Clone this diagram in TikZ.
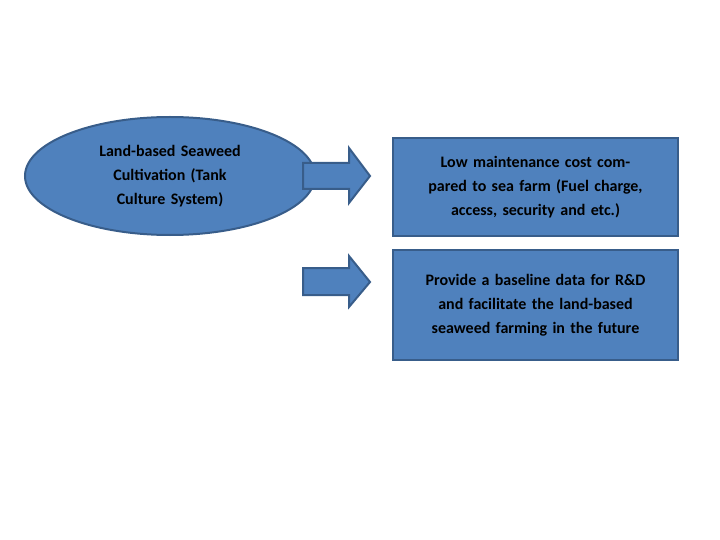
\documentclass[tikz,border=0pt]{standalone}
\usepackage{fontspec}
\setmainfont{Carlito}
\usetikzlibrary{shapes.geometric}
\begin{document}
\begin{tikzpicture}[x=1pt,y=-1pt,
  blk/.style={fill=blue1,draw=blue2,line width=2pt},
  txt/.style={font=\bfseries\fontsize{16}{24}\selectfont,align=center,text=black}]
\definecolor{blue1}{HTML}{4F81BD}
\definecolor{blue2}{HTML}{385D8A}
\useasboundingbox (0,0) rectangle (720,540);
\node[blk,ellipse,minimum width=290pt,minimum height=118pt,txt,text width=160pt] (e) at (170,176) {Land-based Seaweed Cultivation (Tank Culture System)};
\node[blk,rectangle,minimum width=285pt,minimum height=98pt,txt,text width=270pt] (b1) at (535.5,187) {Low maintenance cost compared to sea farm (Fuel charge, access, security and etc.)};
\node[blk,rectangle,minimum width=285pt,minimum height=110pt,txt,text width=250pt] (b2) at (535.5,305) {Provide a baseline data for R\&D and facilitate the land-based seaweed farming in the future};
\draw[blk] (303,163) -- (349,163) -- (349,148) -- (370,176) -- (349,203) -- (349,189) -- (303,189) -- cycle;
\draw[blk] (303,268) -- (349,268) -- (349,256) -- (370,282) -- (349,307) -- (349,295) -- (303,295) -- cycle;
\end{tikzpicture}
\end{document}
